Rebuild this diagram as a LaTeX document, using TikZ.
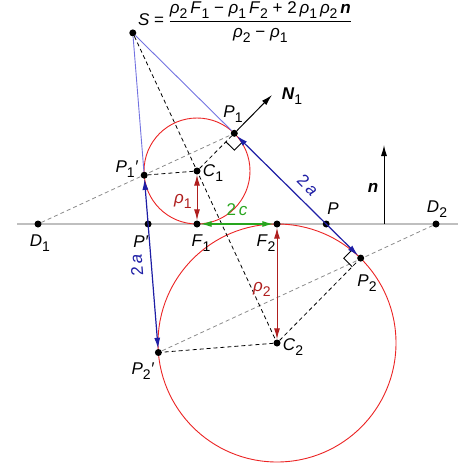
\documentclass[tikz,border=0pt]{standalone}
\usepackage{amsmath}
\usepackage{fontspec}
\setmainfont{Liberation Sans}
\usetikzlibrary{arrows.meta}
\pgfdeclarelayer{background}
\pgfsetlayers{background,main}

\definecolor{circred}{RGB}{235,35,35}
\definecolor{rhored}{RGB}{175,30,30}
\definecolor{thinblue}{RGB}{115,115,225}
\definecolor{arrblue}{RGB}{30,30,165}
\definecolor{cgreen}{RGB}{40,165,30}

\newcommand{\vsub}[2]{\textit{#1}\raisebox{-0.3em}{\fontsize{14}{14}\selectfont #2}}

\begin{document}
\begin{tikzpicture}[x=1pt, y=-1pt, >={Latex[length=11pt,width=6pt]},
    font=\fontsize{17}{20}\selectfont,
    dot/.style={circle, fill=black, inner sep=0pt, minimum size=7pt},
    lbl/.style={inner sep=0pt},
    dashblk/.style={black, line width=0.8pt, dash pattern=on 4pt off 3pt},
    dashgry/.style={black!45, line width=0.8pt, dash pattern=on 4pt off 3pt},
    radarrow/.style={<->, rhored, line width=1pt},
    twoa/.style={<->, arrblue, line width=1.2pt}
   ]
\useasboundingbox (0,0) rectangle (474,474);

% points
\node[dot] (S)   at (132.8,32.9) {};
\node[dot] (C1)  at (197,171) {};
\node[dot] (C2)  at (277,343) {};
\node[dot] (F1)  at (197,224) {};
\node[dot] (F2)  at (277,224) {};
\node[dot] (P1)  at (234.3,133.3) {};
\node[dot] (P1p) at (144.2,175.2) {};
\node[dot] (P2)  at (360.7,258.1) {};
\node[dot] (P2p) at (158.4,352.5) {};
\node[dot] (P)   at (326.2,224) {};
\node[dot] (Pp)  at (148.1,224) {};
\node[dot] (D1)  at (38,224) {};
\node[dot] (D2)  at (436,224) {};
\coordinate (axL) at (17,224);
\coordinate (axR) at (458,224);
\coordinate (nfoot) at (384,224);
\coordinate (ntip) at (384,145);
\coordinate (Ntip) at (272,95);

\begin{pgfonlayer}{background}
\draw[black!25, line width=1.5pt] (axL) -- (axR);
\draw[circred, line width=0.9pt] (C1) circle[radius=53];
\draw[circred, line width=0.9pt] (C2) circle[radius=119];
\draw[dashgry] (D1) -- (P1);
\draw[dashgry] (D2) -- (P2p);
\draw[dashblk] (S) -- (C2);
\end{pgfonlayer}

\draw[dashblk] (C1) -- (P1);
\draw[dashblk] (C1) -- (P1p);
\draw[dashblk] (C2) -- (P2);
\draw[dashblk] (C2) -- (P2p);

\draw[thinblue, line width=0.9pt] (S) -- (P1);
\draw[thinblue, line width=0.9pt] (S) -- (P1p);

% right angles
\draw[black, line width=0.9pt] (225.9,141.8) -- (234.4,150.2) -- (242.8,141.7);
\draw[black, line width=0.9pt] (352.3,266.7) -- (343.8,258.3) -- (352.2,249.7);

\draw[twoa] (P1) -- node[lbl, sloped, above=8pt] (la) {2\,\textit{a}} (P2);
\draw[twoa] (P2p) -- node[lbl, sloped, allow upside down, above=8pt] (lap) {2\,\textit{a}} (P1p);
\draw[radarrow] (C1) -- (F1);
\draw[radarrow] (F2) -- (C2);
\draw[<->, cgreen, line width=1.2pt] (F1) -- (F2);
\draw[->, line width=1pt] (P1) -- (Ntip);
\draw[->, line width=1pt] (nfoot) -- (ntip);

% labels
\node[lbl] (form) at (245,22) {\textit{S} = $\dfrac{\text{\vsub{ρ}{2}\,\vsub{F}{1} − \vsub{ρ}{1}\,\vsub{F}{2} + 2\,\vsub{ρ}{1}\,\vsub{ρ}{2}\,\textbf{\textit{n}}}}{\text{\vsub{ρ}{2} − \vsub{ρ}{1}}}$};
\node[lbl] (lN1) at (292,96) {\textbf{\textit{N}}\raisebox{-0.3em}{\fontsize{14}{14}\selectfont 1}};
\node[lbl] (lP1) at (233,114) {\vsub{P}{1}};
\node[lbl] (lP1p) at (127,169) {\vsub{P}{1}\textit{′}};
\node[lbl] (lC1) at (213,173) {\vsub{C}{1}};
\node[lbl, rhored] (lr1) at (183,201) {\vsub{ρ}{1}};
\node[lbl, cgreen] (l2c) at (237,210) {2\,\textit{c}};
\node[lbl] (lF1) at (201,243) {\vsub{F}{1}};
\node[lbl] (lF2) at (266,243) {\vsub{F}{2}};
\node[lbl] (lD1) at (40,243) {\vsub{D}{1}};
\node[lbl] (lPp) at (141,242) {\textit{P′}};
\node[lbl] (lP) at (333,209) {\textit{P}};
\node[lbl] (lD2) at (437,209) {\vsub{D}{2}};
\node[lbl] (ln) at (373,188) {\textbf{\textit{n}}};
\node[lbl] (lP2) at (367,283) {\vsub{P}{2}};
\node[lbl] (lP2p) at (143,371) {\vsub{P}{2}\textit{′}};
\node[lbl] (lC2) at (293,347) {\vsub{C}{2}};
\node[lbl, rhored] (lr2) at (262,289) {\vsub{ρ}{2}};
\end{tikzpicture}
\end{document}
